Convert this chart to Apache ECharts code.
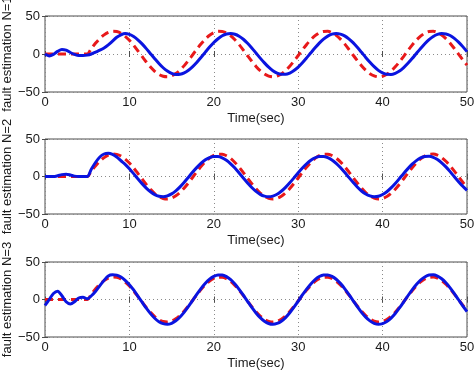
<!DOCTYPE html>
<html>
<head>
<meta charset="utf-8">
<script src="https://cdn.jsdelivr.net/npm/echarts@6/dist/echarts.min.js"></script>
<style>
html,body{margin:0;padding:0;background:#fff;}
#chart{width:474px;height:371px;}
</style>
</head>
<body>
<div id="chart"></div>
<script>
// sample times: 0 to 50 s, every 0.5 s
const timeStep = 0.5;
const sampleCount = 101;
const xTicks = [0, 10, 20, 30, 40, 50];
const yTicks = [-50, 0, 50];
const xLabel = 'Time(sec)';
const yLabels = ['fault estimation N=1', 'fault estimation N=2', 'fault estimation N=3'];

// actual fault (red dashed), same in all three panels
const actualFault = [
  0,0,0,0,0,0,0,0,0,0,
  0,7.4,14.4,20.4,25.2,28.5,29.9,29.5,27.3,23.3,
  18.0,11.5,4.2,-3.2,-10.5,-17.1,-22.7,-26.9,-29.3,-30.0,
  -28.8,-25.8,-21.2,-15.3,-8.4,-1.0,6.5,13.5,19.7,24.7,
  28.1,29.8,29.7,27.7,24.0,18.7,12.4,5.2,-2.3,-9.6,
  -16.3,-22.0,-26.4,-29.1,-30.0,-29.0,-26.3,-21.9,-16.1,-9.3,
  -2.0,5.5,12.6,18.9,24.1,27.8,29.7,29.8,28.0,24.5,
  19.5,13.3,6.2,-1.3,-8.6,-15.5,-21.4,-25.9,-28.8,-30.0,
  -29.3,-26.7,-22.5,-16.9,-10.3,-3.0,4.5,11.7,18.2,23.5,
  27.4,29.6,29.9,28.4,25.1,20.3,14.2,7.2,-0.3,-7.7,
  -14.6
];

// estimate N=1 (blue)
const estimateN1 = [
  0,-2.5,-0.5,3.5,6,5,2,-0.5,-2,-2,
  -1.5,0,2.5,5,8,12,17,22,25.3,27.0,
  25.8,23.0,18.7,13.3,7.1,0.4,-6.2,-12.5,-18.1,-22.5,
  -25.5,-26.9,-26.6,-24.7,-21.3,-16.6,-10.9,-4.3,2.5,9.1,
  15.1,20.1,24.0,26.3,27.0,26.0,23.4,19.4,14.1,8.0,
  1.3,-5.4,-11.7,-17.4,-22.0,-25.2,-26.8,-26.8,-25.1,-21.8,
  -17.2,-11.5,-5.1,1.6,8.2,14.3,19.5,23.5,26.1,27.0,
  26.2,23.9,20.0,14.9,8.8,2.2,-4.5,-10.9,-16.7,-21.5,
  -24.8,-26.7,-26.9,-25.4,-22.4,-17.9,-12.3,-6.0,0.7,7.3,
  13.5,18.9,23.1,25.8,27.0,26.4,24.3,20.6,15.6,9.7,
  3.1
];

// estimate N=2 (blue)
const estimateN2 = [
  0,0,0,1,2.5,3,2,0.5,0,0,
  0,10,19,26,30,31,29.5,26,21.0,16.2,
  10.4,3.8,-2.9,-9.5,-15.4,-20.4,-24.2,-26.4,-27.0,-25.9,
  -23.2,-19.1,-13.8,-7.6,-0.9,5.9,12.2,17.7,22.2,25.3,
  26.8,26.7,24.9,21.6,16.8,11.2,4.7,-2.1,-8.6,-14.7,
  -19.8,-23.8,-26.2,-27.0,-26.1,-23.7,-19.7,-14.5,-8.4,-1.8,
  5.0,11.3,17.0,21.7,25.0,26.7,26.8,25.2,22.1,17.6,
  12.0,5.6,-1.2,-7.7,-14.0,-19.3,-23.3,-25.9,-27.0,-26.4,
  -24.0,-20.3,-15.2,-9.3,-2.7,4.1,10.5,16.4,21.2,24.7,
  26.6,26.9,25.6,22.6,18.3,12.8,6.5,-0.3,-6.9,-13.1,
  -18.5
];

// estimate N=3 (blue)
const estimateN3 = [
  -8,0,8,11,5,-3,-6,-3,2,3,
  1,5,11,18.5,25.5,31.4,32.9,32.5,30.0,25.6,
  19.8,12.7,4.6,-3.5,-11.6,-18.8,-25.0,-29.6,-32.2,-33.0,
  -31.7,-28.4,-23.3,-16.8,-9.2,-1.1,7.2,14.9,21.7,27.2,
  30.9,32.8,32.7,30.5,26.4,20.6,13.6,5.7,-2.5,-10.6,
  -17.9,-24.2,-29.0,-32.0,-33.0,-31.9,-28.9,-24.1,-17.7,-10.2,
  -2.2,6.1,13.9,20.8,26.5,30.6,32.7,32.8,30.8,27.0,
  21.5,14.6,6.8,-1.4,-9.5,-17.1,-23.5,-28.5,-31.7,-33.0,
  -32.2,-29.4,-24.8,-18.6,-11.3,-3.3,5.0,12.9,20.0,25.9,
  30.1,32.6,32.9,31.2,27.6,22.3,15.6,7.9,-0.3,-8.5,
  -16.1
];

const estimates = [estimateN1, estimateN2, estimateN3];

function pairs(values) {
  const out = [];
  for (let i = 0; i < sampleCount; i++) out.push([i * timeStep, values[i]]);
  return out;
}

const FONT = 'Liberation Sans';
const TXT = '#1a1a1a';
const FRAME = '#4d4d4d';
const gridTops = [16, 139, 262];
const gridH = [76, 75, 75];

const grids = [], xAxes = [], yAxes = [], series = [];
for (let p = 0; p < 3; p++) {
  grids.push({left: 45, right: 7, top: gridTops[p], height: gridH[p],
    containLabel: false, outerBoundsMode: 'none',
    show: true, borderColor: FRAME, borderWidth: 1, backgroundColor: '#fff'});
  const xBase = {
    gridIndex: p, type: 'value', min: xTicks[0], max: xTicks[xTicks.length - 1],
    interval: xTicks[1] - xTicks[0],
    axisLine: {show: false},
    axisTick: {show: true, inside: true, length: 3, lineStyle: {color: FRAME}}
  };
  xAxes.push(Object.assign({}, xBase, {
    position: 'bottom',
    name: xLabel, nameLocation: 'middle', nameGap: 20, nameMoveOverlap: false,
    nameTextStyle: {fontFamily: FONT, fontSize: 13, color: TXT},
    axisLabel: {fontFamily: FONT, fontSize: 13, color: TXT, margin: 4},
    splitLine: {show: true, lineStyle: {color: '#8a8a8a', type: [1, 3], width: 1}}
  }));
  xAxes.push(Object.assign({}, xBase, {
    position: 'top', axisLabel: {show: false}, splitLine: {show: false}
  }));
  const yBase = {
    gridIndex: p, type: 'value', min: yTicks[0], max: yTicks[yTicks.length - 1],
    interval: yTicks[1] - yTicks[0],
    axisLine: {show: false},
    axisTick: {show: true, inside: true, length: 3, lineStyle: {color: FRAME}}
  };
  yAxes.push(Object.assign({}, yBase, {
    position: 'left',
    name: yLabels[p], nameLocation: 'middle', nameGap: 31, nameMoveOverlap: false,
    nameTextStyle: {fontFamily: FONT, fontSize: 13, color: TXT},
    axisLabel: {fontFamily: FONT, fontSize: 13, color: TXT, margin: 5,
      formatter: v => String(v).replace('-', '\u2212')},
    splitLine: {show: true, lineStyle: {color: '#8a8a8a', type: [1, 3], width: 1}}
  }));
  yAxes.push(Object.assign({}, yBase, {
    position: 'right', axisLabel: {show: false}, splitLine: {show: false}
  }));
  series.push({
    type: 'line', xAxisIndex: 2 * p, yAxisIndex: 2 * p, data: pairs(actualFault),
    showSymbol: false, smooth: 0.3, z: 2,
    lineStyle: {color: '#e8191a', width: 3, type: [8, 5]}
  });
  series.push({
    type: 'line', xAxisIndex: 2 * p, yAxisIndex: 2 * p, data: pairs(estimates[p]),
    showSymbol: false, smooth: 0.3, z: 3,
    lineStyle: {color: '#0a14e0', width: 3}
  });
}

const chart = echarts.init(document.getElementById('chart'), null, {renderer: 'canvas'});
chart.setOption({
  animation: false,
  backgroundColor: '#fff',
  grid: grids, xAxis: xAxes, yAxis: yAxes, series: series
});
</script>
</body>
</html>
